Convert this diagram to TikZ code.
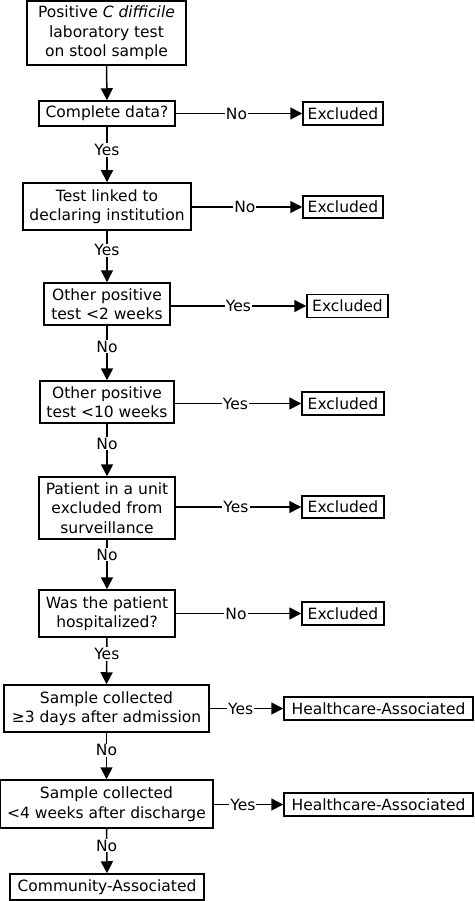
\documentclass[tikz,border=0pt]{standalone}
\usepackage{fontspec}
\setmainfont{DejaVu Sans}
\usetikzlibrary{arrows.meta}
\begin{document}
\begin{tikzpicture}[x=1pt,y=-1pt,
  box/.style={draw,line width=1.5pt,align=center,inner sep=0pt,font=\fontsize{15.5}{19.5}\selectfont},
  lbl/.style={fill=white,inner sep=1pt,font=\fontsize{15.5}{19.5}\selectfont},
  arr/.style={line width=1.5pt,-{Triangle[length=12pt,width=12pt]}},
  ln/.style={line width=1.5pt}]
\useasboundingbox (0,0) rectangle (474,901);
\node[box,minimum width=159pt,minimum height=64pt] (b1) at (106.5,33) {Positive \textit{C difficile}\\laboratory test\\on stool sample};
\node[box,minimum width=136pt,minimum height=25pt] (b2) at (107,113.5) {Complete data?};
\node[box,minimum width=80pt,minimum height=23pt] (e1) at (343,113.5) {Excluded};
\node[box,minimum width=168pt,minimum height=47pt] (b3) at (107,206.5) {Test linked to\\declaring institution};
\node[box,minimum width=80pt,minimum height=22pt] (e2) at (343,207) {Excluded};
\node[box,minimum width=126pt,minimum height=42pt] (b4) at (107,304) {Other positive\\test <2 weeks};
\node[box,minimum width=81pt,minimum height=23pt] (e3) at (347.5,306) {Excluded};
\node[box,minimum width=134pt,minimum height=42pt] (b5) at (107,402) {Other positive\\test <10 weeks};
\node[box,minimum width=82pt,minimum height=23pt] (e4) at (343,403.5) {Excluded};
\node[box,minimum width=136pt,minimum height=62pt] (b6) at (107,508) {Patient in a unit\\excluded from\\surveillance};
\node[box,minimum width=82pt,minimum height=22pt] (e5) at (343,507) {Excluded};
\node[box,minimum width=136pt,minimum height=47pt] (b7) at (107,613.5) {Was the patient\\hospitalized?};
\node[box,minimum width=82pt,minimum height=23pt] (e6) at (343,613.5) {Excluded};
\node[box,minimum width=205pt,minimum height=47pt] (b8) at (106.5,708.5) {Sample collected\\≥3 days after admission};
\node[box,minimum width=189pt,minimum height=23pt] (h1) at (378.5,708.5) {Healthcare-Associated};
\node[box,minimum width=213pt,minimum height=48pt] (b9) at (106.5,804) {Sample collected\\<4 weeks after discharge};
\node[box,minimum width=189pt,minimum height=23pt] (h2) at (378.5,804.5) {Healthcare-Associated};
\node[box,minimum width=194pt,minimum height=26pt] (b10) at (107,887) {Community-Associated};
% vertical
\draw[arr] (b1.south) -- (b2.north);
\draw[arr] (b2.south) -- node[lbl,pos=0.42]{Yes} (b3.north);
\draw[arr] (b3.south) -- node[lbl,pos=0.38]{Yes} (b4.north);
\draw[arr] (b4.south) -- node[lbl,pos=0.38]{No} (b5.north);
\draw[arr] (b5.south) -- node[lbl,pos=0.38]{No} (b6.north);
\draw[arr] (b6.south) -- node[lbl,pos=0.3]{No} (b7.north);
\draw[arr] (b7.south) -- node[lbl,pos=0.35]{Yes} (b8.north);
\draw[arr] (b8.south) -- node[lbl,pos=0.38]{No} (b9.north);
\draw[arr] (b9.south) -- node[lbl,pos=0.38]{No} (b10.north);
% horizontal
\draw[arr] (b2.east) -- node[lbl,pos=0.48]{No} (e1.west);
\draw[arr] (b3.east |- e2.west) -- node[lbl,pos=0.48]{No} (e2.west);
\draw[arr] (b4.east |- e3.west) -- node[lbl]{Yes} (e3.west);
\draw[arr] (b5.east |- e4.west) -- node[lbl,pos=0.48]{Yes} (e4.west);
\draw[arr] (b6.east |- e5.west) -- node[lbl,pos=0.48]{Yes} (e5.west);
\draw[arr] (b7.east) -- node[lbl,pos=0.48]{No} (e6.west);
\draw[arr] (b8.east) -- node[lbl,pos=0.42]{Yes} (h1.west);
\draw[arr] (b9.east |- h2.west) -- node[lbl,pos=0.42]{Yes} (h2.west);
\end{tikzpicture}
\end{document}
